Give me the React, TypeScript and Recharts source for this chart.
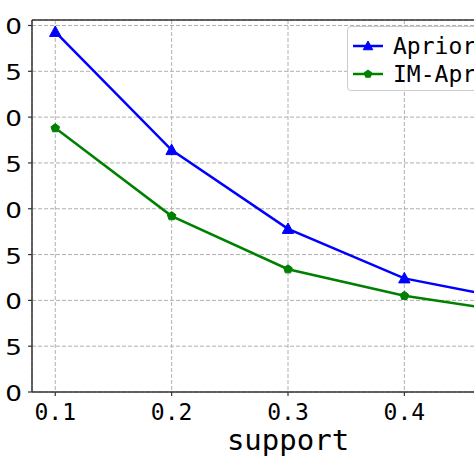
import React from 'react';
import { CartesianGrid, Line, LineChart, XAxis, YAxis, Legend, ReferenceLine } from 'recharts';

const support = [0.1, 0.2, 0.3, 0.4, 0.5];
const apriori = [39.3, 26.4, 17.8, 12.4, 9.9];
const imApriori = [28.8, 19.2, 13.4, 10.5, 8.6];
const yTicks = [0, 5, 10, 15, 20, 25, 30, 35, 40];

const data = support.map((s, i) => ({ support: s, apriori: apriori[i], imApriori: imApriori[i] }));

const BLUE = '#0000ff';
const GREEN = '#008000';
const AXIS = '#333333';
const MONO = '"DejaVu Sans Mono", monospace';
const SANS = '"DejaVu Sans", sans-serif';

const triangle = (cx: number, cy: number, r: number) =>
    `${cx},${cy - r} ${cx + r * 0.95},${cy + r * 0.75} ${cx - r * 0.95},${cy + r * 0.75}`;

const pentagon = (cx: number, cy: number, r: number) =>
    [0, 1, 2, 3, 4]
        .map((k) => {
            const a = -Math.PI / 2 + (k * 2 * Math.PI) / 5;
            return `${cx + r * Math.cos(a)},${cy + r * Math.sin(a)}`;
        })
        .join(' ');

const TriangleDot = (props: any) => {
    const { cx, cy } = props;
    if (cx == null || cy == null) return <g />;
    return <polygon points={triangle(cx, cy, 6)} fill={BLUE} stroke={BLUE} strokeWidth={1} />;
};

const PentagonDot = (props: any) => {
    const { cx, cy } = props;
    if (cx == null || cy == null) return <g />;
    return <polygon points={pentagon(cx, cy, 4.5)} fill={GREEN} stroke={GREEN} strokeWidth={1} />;
};

const XTick = (props: any) => {
    const { x, y, payload } = props;
    return (
        <text x={x} y={y + 17} textAnchor="middle" fill="#000" fontSize={23} fontFamily={MONO}>
            {Number(payload.value).toFixed(1)}
        </text>
    );
};

// the reference digits are drawn wide, and only the last one shows at the left edge
const YTick = (props: any) => {
    const { x, y, payload } = props;
    return (
        <g transform={`translate(${x + 7},${y + 9})`}>
            <text x={0} y={0} textAnchor="end" transform="scale(1.25,1)" letterSpacing={4} fill="#000" fontSize={21} fontFamily={SANS}>
                {payload.value}
            </text>
        </g>
    );
};

const LegendBox = (props: any) => {
    const { payload } = props;
    return (
        <div
            style={{
                border: '1px solid #cccccc',
                borderRadius: 4,
                background: 'rgba(255,255,255,0.85)',
                padding: '5px 40px 2px 5px',
                fontFamily: MONO,
                fontSize: 23,
                color: '#000',
            }}
        >
            {(payload || []).map((entry: any) => {
                const isBlue = entry.dataKey === 'apriori';
                const color = isBlue ? BLUE : GREEN;
                return (
                    <div key={entry.value} style={{ display: 'flex', alignItems: 'center', height: 28, whiteSpace: 'nowrap' }}>
                        <svg width={40} height={28} style={{ flex: 'none' }}>
                            <line x1={0} y1={14} x2={30} y2={14} stroke={color} strokeWidth={2.5} />
                            <polygon
                                points={isBlue ? triangle(15, 14, 5) : pentagon(15, 14, 4)}
                                fill={color}
                                stroke={color}
                            />
                        </svg>
                        <span style={{ lineHeight: '28px' }}>{entry.value}</span>
                    </div>
                );
            })}
        </div>
    );
};

export default function App() {
    return (
        <div style={{ position: 'absolute', left: 0, top: 0, width: 474, height: 474, overflow: 'hidden', background: '#fff' }}>
            <div style={{ marginLeft: -40 }}>
                <LineChart width={620} height={474} data={data} margin={{ top: 20, right: 36, left: 0, bottom: 0 }}>
                    <CartesianGrid stroke="#b0b0b0" strokeDasharray="4 2" strokeWidth={1} />
                    <XAxis
                        dataKey="support"
                        type="number"
                        domain={[0.08, 0.52]}
                        ticks={support}
                        height={82}
                        tickSize={4}
                        tickMargin={7}
                        axisLine={{ stroke: AXIS, strokeWidth: 1.5 }}
                        tickLine={{ stroke: AXIS, strokeWidth: 1.2 }}
                        tick={<XTick />}
                        label={{
                            value: 'support',
                            position: 'insideBottom',
                            offset: 24,
                            style: { fill: '#000', fontSize: 29, fontFamily: MONO },
                        }}
                    />
                    <YAxis
                        type="number"
                        domain={[0, 40.6]}
                        ticks={yTicks}
                        width={72}
                        tickSize={4}
                        tickMargin={8}
                        allowDataOverflow
                        axisLine={{ stroke: AXIS, strokeWidth: 1.5 }}
                        tickLine={{ stroke: AXIS, strokeWidth: 1.2 }}
                        tick={<YTick />}
                    />
                    <ReferenceLine y={40.6} stroke={AXIS} strokeWidth={1.5} ifOverflow="visible" />
                    <ReferenceLine x={0.52} stroke={AXIS} strokeWidth={1.5} ifOverflow="visible" />
                    <Legend
                        layout="vertical"
                        align="center"
                        verticalAlign="middle"
                        content={<LegendBox />}
                        wrapperStyle={{ top: 26, left: 387, width: 'auto' }}
                    />
                    <Line
                        type="linear"
                        dataKey="apriori"
                        name="Apriori"
                        stroke={BLUE}
                        strokeWidth={2.5}
                        dot={<TriangleDot />}
                        activeDot={false}
                        isAnimationActive={false}
                    />
                    <Line
                        type="linear"
                        dataKey="imApriori"
                        name="IM-Apriori"
                        stroke={GREEN}
                        strokeWidth={2.5}
                        dot={<PentagonDot />}
                        activeDot={false}
                        isAnimationActive={false}
                    />
                </LineChart>
            </div>
        </div>
    );
}
